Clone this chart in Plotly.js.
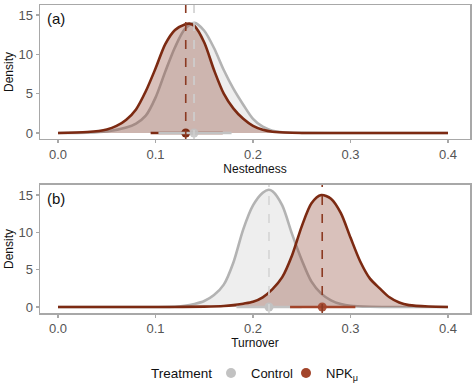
<!DOCTYPE html>
<html><head><meta charset="utf-8">
<script src="https://cdn.plot.ly/plotly-3.0.1.min.js"></script>
<style>html,body{margin:0;padding:0;background:#fff}#chart{width:474px;height:384px}</style>
</head><body><div id="chart"></div>
<script>
// Panel (a): Nestedness densities
var nestX_ctrl = [0, 0.03, 0.05, 0.07, 0.08, 0.09, 0.10, 0.11, 0.12, 0.13, 0.14, 0.15, 0.16, 0.17, 0.18, 0.19, 0.20, 0.21, 0.22, 0.23, 0.25, 0.30, 0.40];
var nestY_ctrl = [0, 0.05, 0.2, 0.7, 1.2, 2.2, 4.5, 7.8, 10.9, 13.2, 14.0, 13.0, 10.8, 8.0, 5.6, 3.6, 1.8, 0.8, 0.3, 0.1, 0.02, 0, 0];
var nestX_npk = [0, 0.03, 0.05, 0.06, 0.07, 0.08, 0.09, 0.10, 0.11, 0.12, 0.13, 0.135, 0.14, 0.15, 0.16, 0.17, 0.18, 0.19, 0.20, 0.21, 0.22, 0.24, 0.30, 0.40];
var nestY_npk = [0, 0.12, 0.45, 0.9, 1.7, 3.0, 5.3, 8.2, 11.3, 13.1, 13.8, 13.9, 13.6, 11.5, 8.0, 5.0, 3.1, 1.8, 0.9, 0.4, 0.15, 0.03, 0, 0];
// Panel (b): Turnover densities
var turnX_ctrl = [0, 0.10, 0.12, 0.13, 0.14, 0.15, 0.16, 0.17, 0.18, 0.19, 0.20, 0.21, 0.216, 0.22, 0.23, 0.24, 0.25, 0.26, 0.27, 0.28, 0.29, 0.30, 0.32, 0.40];
var turnY_ctrl = [0, 0.01, 0.05, 0.15, 0.4, 0.8, 1.6, 3.0, 6.0, 10.4, 13.6, 15.3, 15.7, 15.5, 13.6, 9.8, 6.3, 3.4, 1.8, 0.9, 0.4, 0.15, 0.03, 0];
var turnX_npk = [0, 0.12, 0.15, 0.17, 0.18, 0.19, 0.20, 0.21, 0.22, 0.23, 0.24, 0.25, 0.26, 0.27, 0.28, 0.29, 0.30, 0.31, 0.32, 0.33, 0.34, 0.35, 0.36, 0.38, 0.40];
var turnY_npk = [0, 0.01, 0.05, 0.13, 0.25, 0.45, 0.7, 1.3, 2.4, 4.0, 6.9, 10.8, 13.9, 15.0, 14.5, 12.6, 9.3, 6.1, 3.8, 2.5, 1.3, 0.6, 0.25, 0.06, 0.01];
// Means and intervals
var nestMean = {ctrl: 0.1395, npk: 0.131};
var nestCI = {ctrl: [0.103, 0.178], npk: [0.095, 0.169]};
var turnMean = {ctrl: 0.2164, npk: 0.271};
var turnCI = {ctrl: [0.183, 0.25], npk: [0.238, 0.305]};
var xTicks = [0, 0.1, 0.2, 0.3, 0.4];
var xTickText = ['0.0', '0.1', '0.2', '0.3', '0.4'];
var yTicks = [0, 5, 10, 15];
var legendNames = ['Control', 'NPK<sub>μ</sub>'];
var legendTitle = 'Treatment';

var greyLine = '#b3b3b3', greyFill = 'rgba(200,200,200,0.3)', greyPt = '#c2c2c2';
var brLine = '#7c2a12', brFill = 'rgba(130,50,30,0.3)', brPt = '#a2442a';

function dens(x, y, line, fill, xa, ya) {
  return {x: x, y: y, xaxis: xa, yaxis: ya, type: 'scatter', mode: 'lines',
    line: {color: line, width: 2.6, shape: 'spline', smoothing: 0.8},
    fill: 'tozeroy', fillcolor: fill, showlegend: false, hoverinfo: 'skip'};
}
function pt(m, ci, col, xa, ya, op) {
  return {x: [m], y: [0], xaxis: xa, yaxis: ya, type: 'scatter', mode: 'markers',
    marker: {color: col, size: 9, opacity: op}, showlegend: false,
    error_x: {type: 'data', symmetric: false, array: [ci[1] - m], arrayminus: [m - ci[0]], color: col, thickness: 2.5, width: 0}};
}
var traces = [
  dens(nestX_ctrl, nestY_ctrl, greyLine, greyFill, 'x', 'y'),
  dens(nestX_npk, nestY_npk, brLine, brFill, 'x', 'y'),
  dens(turnX_ctrl, turnY_ctrl, greyLine, greyFill, 'x2', 'y2'),
  dens(turnX_npk, turnY_npk, brLine, brFill, 'x2', 'y2'),
  pt(nestMean.npk, nestCI.npk, brLine, 'x', 'y', 1),
  pt(nestMean.ctrl, nestCI.ctrl, greyPt, 'x', 'y', 0.85),
  pt(turnMean.ctrl, turnCI.ctrl, greyPt, 'x2', 'y2', 1),
  pt(turnMean.npk, turnCI.npk, brPt, 'x2', 'y2', 0.9),
  {x: [null], y: [null], type: 'scatter', mode: 'markers', name: legendNames[0], marker: {color: greyPt, size: 10}},
  {x: [null], y: [null], type: 'scatter', mode: 'markers', name: legendNames[1], marker: {color: brPt, size: 10}}
];
function vline(m, col, xr, yr) {
  return {type: 'line', xref: xr, yref: yr + ' domain', x0: m, x1: m, y0: 0, y1: 1,
    line: {color: col, width: 1.6, dash: 'dash'}};
}
var axBase = {showgrid: false, zeroline: false, showline: true, mirror: true, linecolor: '#a8a8a8', linewidth: 1.5,
  ticks: 'outside', ticklen: 3, tickcolor: '#a8a8a8', tickwidth: 1.2,
  tickfont: {size: 13, color: '#555555', family: 'Liberation Sans, Arial, sans-serif'}};
function xax(title, anchor) {
  return Object.assign({}, axBase, {range: [-0.0185, 0.4226], tickvals: xTicks, ticktext: xTickText, anchor: anchor,
    title: {text: title, font: {size: 12, color: '#111'}, standoff: 1}});
}
function yax(range, domain, anchor) {
  return Object.assign({}, axBase, {range: range, domain: domain, tickvals: yTicks, anchor: anchor,
    title: {text: 'Density', font: {size: 12, color: '#111'}, standoff: 2}});
}
var layout = {
  width: 474, height: 384, margin: {l: 40, r: 4, t: 5, b: 71},
  paper_bgcolor: '#fff', plot_bgcolor: '#fff',
  font: {family: 'Liberation Sans, Arial, sans-serif', color: '#111'},
  xaxis: xax('Nestedness', 'y'),
  yaxis: yax([-0.76, 16.27], [0.565, 1], 'x'),
  xaxis2: xax('Turnover', 'y2'),
  yaxis2: yax([-0.8, 16.34], [0, 0.4156], 'x2'),
  shapes: [vline(nestMean.npk, '#8b3a22', 'x', 'y'), vline(nestMean.ctrl, '#cfcfcf', 'x', 'y'),
           vline(turnMean.ctrl, '#d4d4d4', 'x2', 'y2'), vline(turnMean.npk, '#8b3a22', 'x2', 'y2')],
  annotations: [
    {text: '(a)', xref: 'x domain', yref: 'y domain', x: 0.012, y: 0.98, xanchor: 'left', yanchor: 'top', showarrow: false, font: {size: 15, color: '#111'}},
    {text: '(b)', xref: 'x2 domain', yref: 'y2 domain', x: 0.012, y: 0.98, xanchor: 'left', yanchor: 'top', showarrow: false, font: {size: 15, color: '#111'}},
    {text: legendTitle, xref: 'paper', yref: 'paper', x: (214 - 40) / 430, y: (313 - 373) / 308, xanchor: 'right', yanchor: 'middle', showarrow: false, font: {size: 13.5, color: '#111'}}
  ],
  legend: {orientation: 'h', xref: 'container', yref: 'container', x: 211 / 474, xanchor: 'left', y: (384 - 373) / 384, yanchor: 'middle',
    entrywidth: 30, entrywidthmode: 'pixels', font: {size: 13, color: '#111'}},
  showlegend: true
};
Plotly.newPlot('chart', traces, layout, {displayModeBar: false, staticPlot: true});
</script></body></html>
